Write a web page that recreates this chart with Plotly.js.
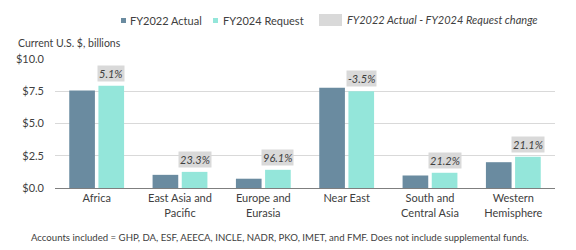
<!DOCTYPE html>
<html>
<head>
<meta charset="utf-8">
<script src="https://cdn.plot.ly/plotly-3.0.1.min.js"></script>
<style>
  html, body { margin: 0; padding: 0; background: #fff; }
  #chart { width: 576px; height: 250px; }
</style>
</head>
<body>
<div id="chart"></div>
<script>
// regions on the x axis
const regions = ['Africa', 'East Asia and<br>Pacific', 'Europe and<br>Eurasia', 'Near East', 'South and<br>Central Asia', 'Western<br>Hemisphere'];
// values in billions of current US $
const fy2022_actual = [7.55, 1.02, 0.72, 7.78, 0.97, 2.0];
const fy2024_request = [7.93, 1.25, 1.41, 7.50, 1.18, 2.42];
// change labels shown over the request bars
const change_labels = ['5.1%', '23.3%', '96.1%', '-3.5%', '21.2%', '21.1%'];
const y_ticks = [0, 2.5, 5, 7.5, 10];

const fontName = 'Lato, "Open Sans", sans-serif';
const textColor = '#404040';
const col22 = '#6a8ba0';
const col24 = '#94e6da';

// plot box in pixels, used to place the hand drawn legend
const W = 576, H = 250;
const mL = 55, mR = 21, mT = 59, mB = 62;
const px = (x) => (x - mL) / (W - mL - mR);
const py = (y) => (H - mB - y) / (H - mT - mB);

let annotations = [];
let shapes = [];

//percent change boxes above the FY2024 bars
for (let i = 0; i < regions.length; i++) {
    annotations.push({
        x: i + 0.175, y: fy2024_request[i],
        xref: 'x', yref: 'y',
        text: '<i>' + change_labels[i] + '</i>',
        showarrow: false,
        yanchor: 'bottom',
        yshift: 4,
        bgcolor: '#d9d9d9',
        borderpad: 1,
        font: { family: fontName, size: 11, color: textColor }
    });
}

//legend, drawn by hand so the swatches stay small
shapes.push({ type: 'rect', xref: 'paper', yref: 'paper', x0: px(121), x1: px(126), y0: py(23), y1: py(18), fillcolor: col22, line: { width: 0 } });
shapes.push({ type: 'rect', xref: 'paper', yref: 'paper', x0: px(213), x1: px(218), y0: py(23), y1: py(18), fillcolor: col24, line: { width: 0 } });
shapes.push({ type: 'rect', xref: 'paper', yref: 'paper', x0: px(319), x1: px(342), y0: py(26), y1: py(14), fillcolor: '#d9d9d9', line: { width: 0 } });
annotations.push({ xref: 'paper', yref: 'paper', x: px(128), y: py(21), xanchor: 'left', yanchor: 'middle', showarrow: false, text: 'FY2022 Actual', font: { family: fontName, size: 11, color: textColor } });
annotations.push({ xref: 'paper', yref: 'paper', x: px(221), y: py(21), xanchor: 'left', yanchor: 'middle', showarrow: false, text: 'FY2024 Request', font: { family: fontName, size: 11, color: textColor } });
annotations.push({ xref: 'paper', yref: 'paper', x: px(345), y: py(20), xanchor: 'left', yanchor: 'middle', showarrow: false, text: '<i>FY2022 Actual - FY2024 Request change</i>', font: { family: fontName, size: 11, color: textColor } });

//axis caption and footnote
annotations.push({ xref: 'paper', yref: 'paper', x: px(16), y: py(43), xanchor: 'left', yanchor: 'middle', showarrow: false, text: 'Current U.S. $, billions', font: { family: fontName, size: 10.5, color: textColor } });
annotations.push({ xref: 'paper', yref: 'paper', x: px(280), y: py(237), xanchor: 'center', yanchor: 'middle', showarrow: false, text: 'Accounts included = GHP, DA, ESF, AEECA, INCLE, NADR, PKO, IMET, and FMF. Does not include supplemental funds.', font: { family: fontName, size: 9.6, color: textColor } });

Plotly.newPlot('chart', [{
    x: regions,
    y: fy2022_actual,
    type: 'bar',
    name: 'FY2022 Actual',
    marker: { color: col22 },
    hoverinfo: 'skip'
}, {
    x: regions,
    y: fy2024_request,
    type: 'bar',
    name: 'FY2024 Request',
    marker: { color: col24 },
    hoverinfo: 'skip'
}], {
    width: W, height: H,
    margin: { l: mL, r: mR, t: mT, b: mB, pad: 0 },
    paper_bgcolor: '#fff',
    plot_bgcolor: '#fff',
    showlegend: false,
    barmode: 'group',
    bargap: 0.3,
    bargroupgap: 0.12,
    font: { family: fontName, size: 11, color: textColor },
    xaxis: {
        type: 'category',
        showgrid: false,
        showline: true,
        linecolor: '#7f7f7f',
        linewidth: 1,
        ticks: '',
        tickfont: { family: fontName, size: 11, color: textColor }
    },
    yaxis: {
        range: [0, 10],
        tickvals: y_ticks,
        ticktext: y_ticks.map(v => '$' + v.toFixed(1)),
        showgrid: true,
        gridcolor: '#d9d9d9',
        gridwidth: 1,
        zeroline: false,
        showline: false,
        ticks: '',
        ticklabelstandoff: 10,
        tickfont: { family: fontName, size: 11, color: textColor }
    },
    annotations: annotations,
    shapes: shapes
}, { staticPlot: true });
</script>
</body>
</html>
